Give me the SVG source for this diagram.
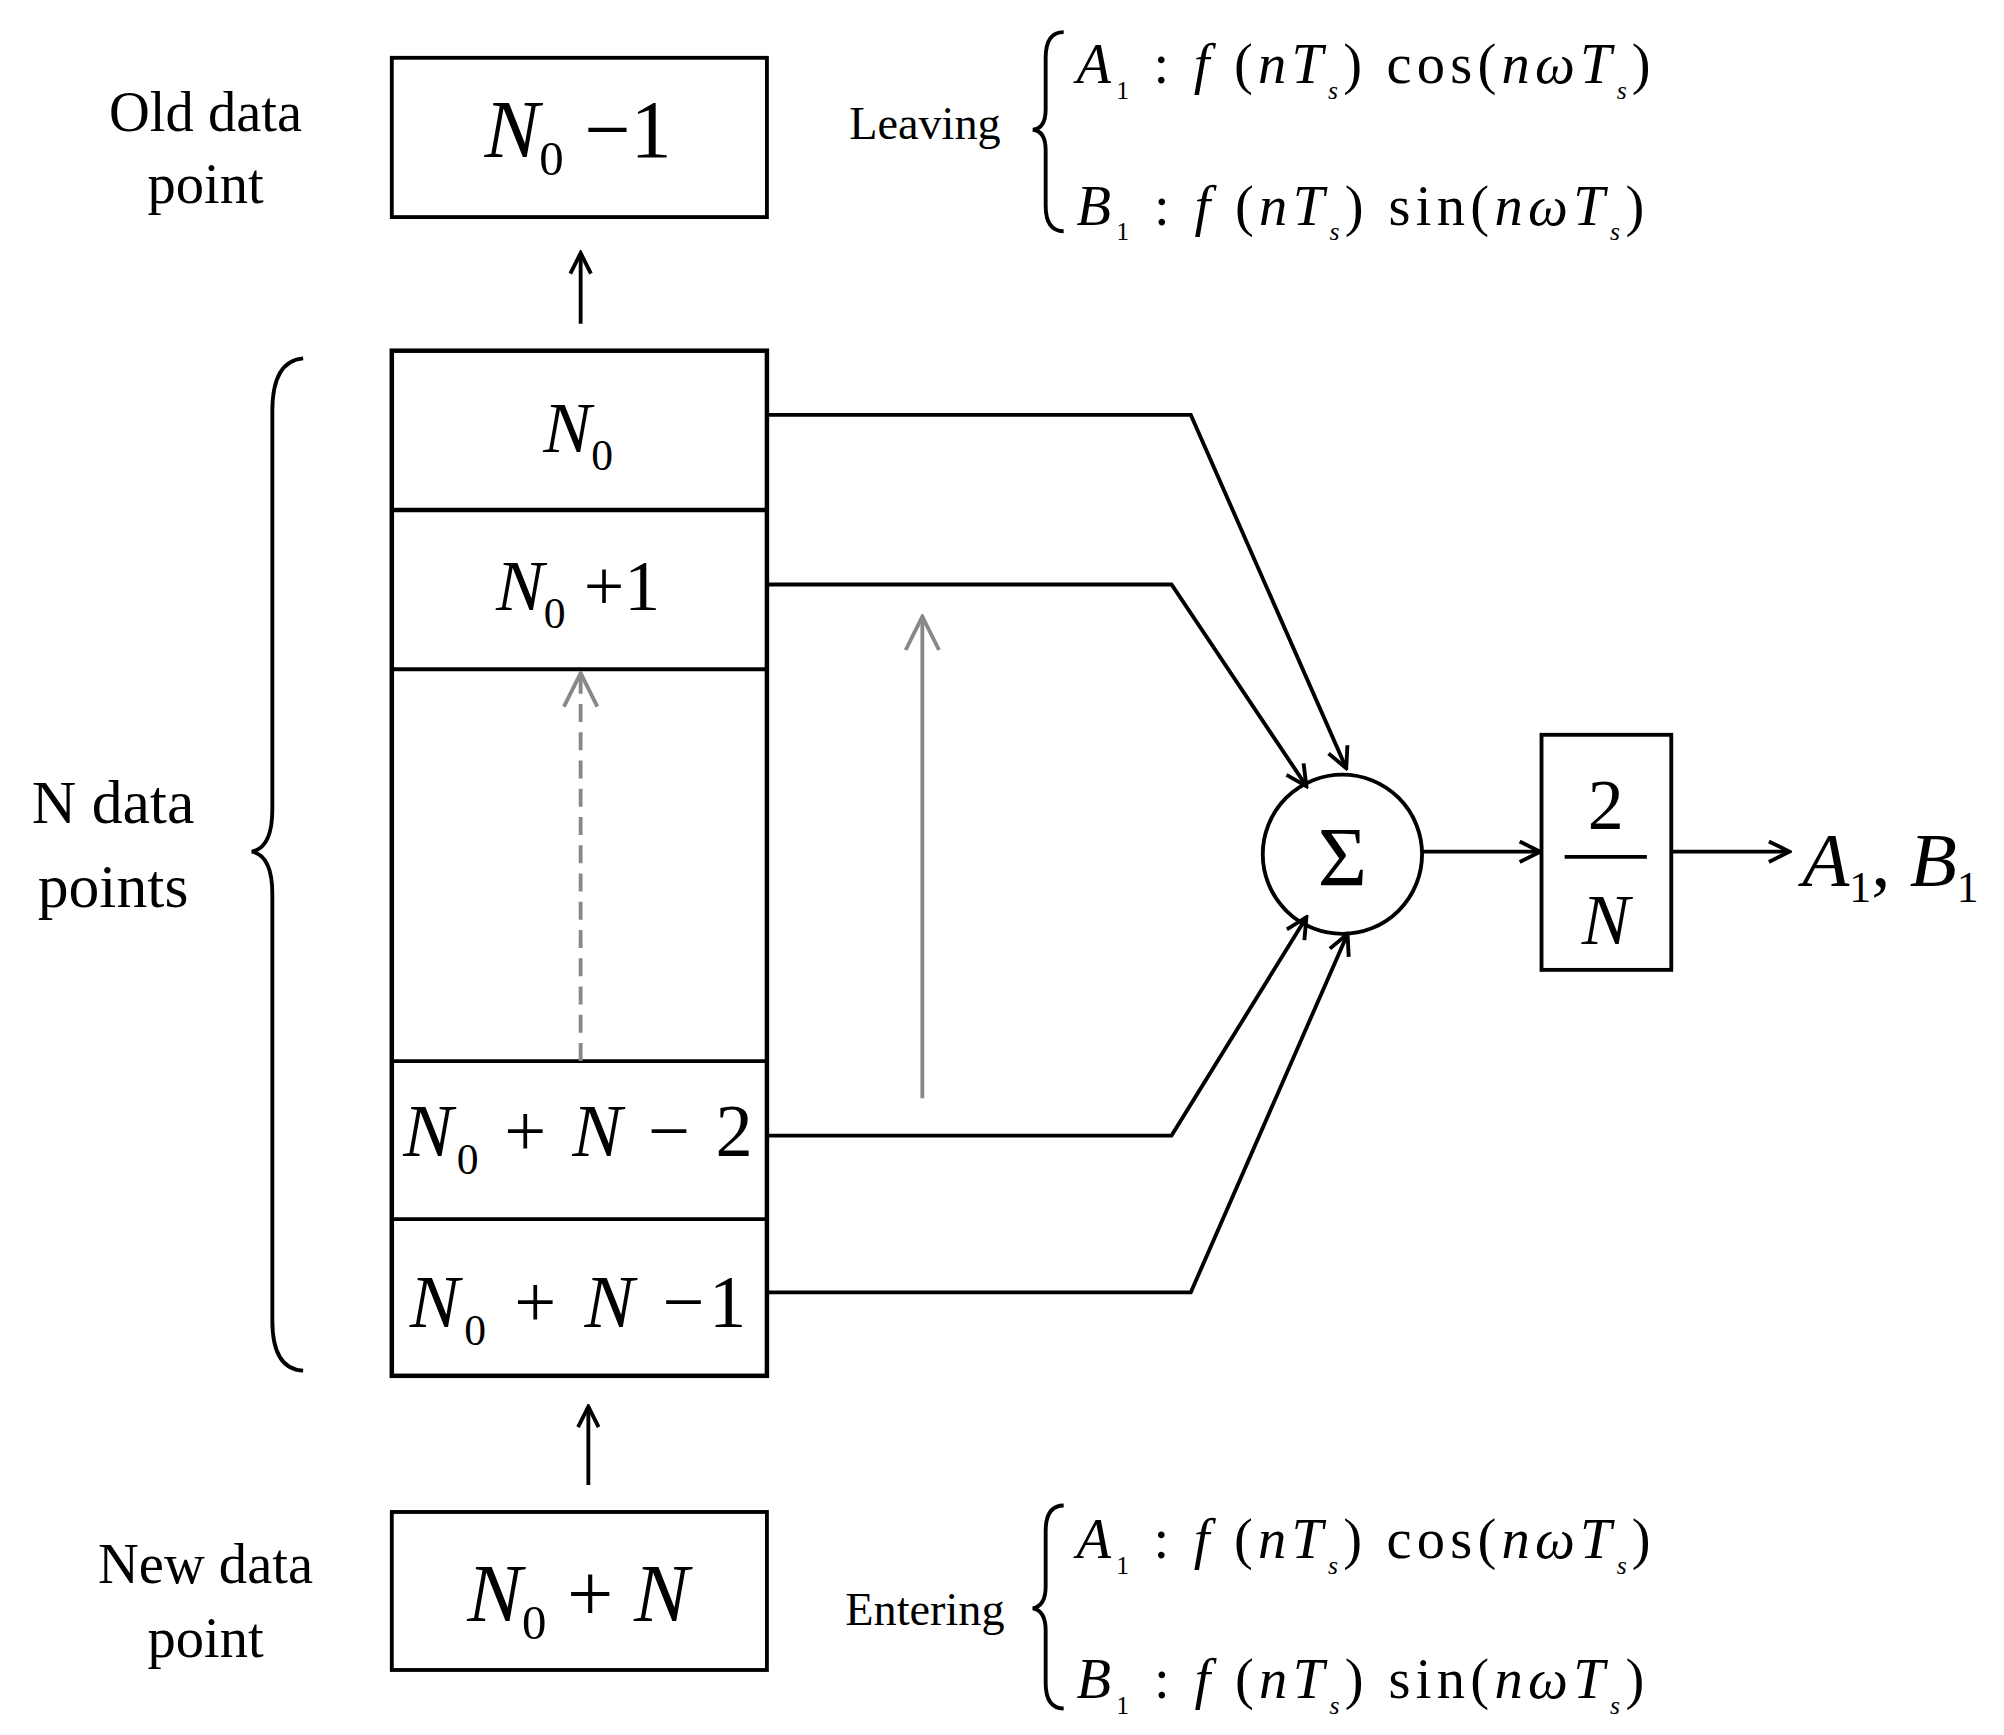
<svg xmlns="http://www.w3.org/2000/svg" width="2004" height="1735" viewBox="0 0 2004 1735">
<style>
.t{font-family:"Liberation Serif",serif;fill:#000}
.i{font-style:italic}
.b{fill:none;stroke:#000;stroke-width:3}
.c{fill:none;stroke:#000;stroke-width:3.5}
</style>
<defs>
<marker id="a" viewBox="0 0 20 20" refX="18" refY="10" markerWidth="20" markerHeight="20" markerUnits="userSpaceOnUse" orient="auto"><polyline points="2,2 18,10 2,18" fill="none" stroke="#000" stroke-width="3"/></marker>
<marker id="g" viewBox="0 0 30 30" refX="28" refY="15" markerWidth="30" markerHeight="30" markerUnits="userSpaceOnUse" orient="auto"><polyline points="2,2 28,15 2,28" fill="none" stroke="#888" stroke-width="3"/></marker>
</defs>
<rect width="2004" height="1735" fill="#fff"/>
<g transform="scale(1.2846)">
<g id="old">
<rect x="305" y="45" width="292" height="124" class="b"/>
<text x="450" y="122" text-anchor="middle" class="t" font-size="64"><tspan class="i">N</tspan><tspan font-size="38" dy="14">0</tspan><tspan dy="-14"> −1</tspan></text>
<text x="160" y="102" text-anchor="middle" class="t" font-size="44">Old data</text>
<text x="160" y="158" text-anchor="middle" class="t" font-size="44">point</text>
</g>
<g id="leaving">
<text x="720" y="108" text-anchor="middle" class="t" font-size="36">Leaving</text>
<path d="M828,25 Q814,25 814,45 L814,85 Q814,100 804,101 Q814,102 814,117 L814,160 Q814,180 828,180" class="b" stroke-width="2"/>
<text x="838" y="65" class="t" font-size="44" textLength="447" lengthAdjust="spacing"><tspan class="i">A</tspan><tspan font-size="20" dy="12">1</tspan><tspan dy="-12"> : </tspan><tspan class="i">f</tspan> (<tspan class="i">nT</tspan><tspan font-size="20" class="i" dy="12">s</tspan><tspan dy="-12">) cos(</tspan><tspan class="i">nωT</tspan><tspan font-size="20" class="i" dy="12">s</tspan><tspan dy="-12">)</tspan></text>
<text x="838" y="175" class="t" font-size="44" textLength="442" lengthAdjust="spacing"><tspan class="i">B</tspan><tspan font-size="20" dy="12">1</tspan><tspan dy="-12"> : </tspan><tspan class="i">f</tspan> (<tspan class="i">nT</tspan><tspan font-size="20" class="i" dy="12">s</tspan><tspan dy="-12">) sin(</tspan><tspan class="i">nωT</tspan><tspan font-size="20" class="i" dy="12">s</tspan><tspan dy="-12">)</tspan></text>
</g>
<g id="buffer">
<rect x="305" y="273" width="292" height="798" class="c"/>
<line x1="305" y1="397" x2="597" y2="397" class="c"/>
<line x1="305" y1="521" x2="597" y2="521" class="b" stroke-width="2.5"/>
<line x1="305" y1="826" x2="597" y2="826" class="b" stroke-width="2"/>
<line x1="305" y1="949" x2="597" y2="949" class="b" stroke-width="3"/>
<text x="450" y="352" text-anchor="middle" class="t" font-size="56"><tspan class="i">N</tspan><tspan font-size="34" dy="14">0</tspan></text>
<text x="450" y="475" text-anchor="middle" class="t" font-size="56"><tspan class="i">N</tspan><tspan font-size="34" dy="14">0</tspan><tspan dy="-14"> +1</tspan></text>
<text x="450" y="900" text-anchor="middle" class="t" font-size="58" textLength="272" lengthAdjust="spacing"><tspan class="i">N</tspan><tspan font-size="34" dy="14">0</tspan><tspan dy="-14"> + </tspan><tspan class="i">N</tspan> − 2</text>
<text x="450" y="1033" text-anchor="middle" class="t" font-size="58" textLength="262" lengthAdjust="spacing"><tspan class="i">N</tspan><tspan font-size="34" dy="14">0</tspan><tspan dy="-14"> + </tspan><tspan class="i">N</tspan> −1</text>
</g>
<g id="brace">
<path d="M236,279 Q212,281 212,320 L212,630 Q212,660 196,663 Q212,666 212,696 L212,1028 Q212,1066 236,1067" class="b"/>
<text x="88" y="641" text-anchor="middle" class="t" font-size="48">N data</text>
<text x="88" y="706" text-anchor="middle" class="t" font-size="48">points</text>
</g>
<g id="new">
<rect x="305" y="1177" width="292" height="123" class="b"/>
<text x="450" y="1262" text-anchor="middle" class="t" font-size="64"><tspan class="i">N</tspan><tspan font-size="38" dy="14">0</tspan><tspan dy="-14"> + </tspan><tspan class="i">N</tspan></text>
<text x="160" y="1232" text-anchor="middle" class="t" font-size="44">New data</text>
<text x="160" y="1290" text-anchor="middle" class="t" font-size="44">point</text>
</g>
<g id="entering">
<text x="720" y="1265" text-anchor="middle" class="t" font-size="36">Entering</text>
<path d="M828,1172 Q814,1172 814,1192 L814,1235 Q814,1250 804,1252 Q814,1254 814,1269 L814,1310 Q814,1330 828,1330" class="b" stroke-width="2"/>
<text x="838" y="1213" class="t" font-size="44" textLength="447" lengthAdjust="spacing"><tspan class="i">A</tspan><tspan font-size="20" dy="12">1</tspan><tspan dy="-12"> : </tspan><tspan class="i">f</tspan> (<tspan class="i">nT</tspan><tspan font-size="20" class="i" dy="12">s</tspan><tspan dy="-12">) cos(</tspan><tspan class="i">nωT</tspan><tspan font-size="20" class="i" dy="12">s</tspan><tspan dy="-12">)</tspan></text>
<text x="838" y="1322" class="t" font-size="44" textLength="442" lengthAdjust="spacing"><tspan class="i">B</tspan><tspan font-size="20" dy="12">1</tspan><tspan dy="-12"> : </tspan><tspan class="i">f</tspan> (<tspan class="i">nT</tspan><tspan font-size="20" class="i" dy="12">s</tspan><tspan dy="-12">) sin(</tspan><tspan class="i">nωT</tspan><tspan font-size="20" class="i" dy="12">s</tspan><tspan dy="-12">)</tspan></text>
</g>
<g id="sum">
<circle cx="1045" cy="665" r="62" class="b"/>
<text x="1045" y="690" text-anchor="middle" class="t" font-size="66">Σ</text>
</g>
<g id="gain">
<rect x="1200" y="572" width="101" height="183" class="b"/>
<text x="1250" y="645" text-anchor="middle" class="t" font-size="56">2</text>
<line x1="1218" y1="667" x2="1282" y2="667" stroke="#000" stroke-width="3"/>
<text x="1250" y="735" text-anchor="middle" class="t i" font-size="56">N</text>
</g>
<g id="out">
<text x="1403" y="690" class="t" font-size="60"><tspan class="i">A</tspan><tspan font-size="34" dy="12">1</tspan><tspan dy="-12">, </tspan><tspan class="i">B</tspan><tspan font-size="34" dy="12">1</tspan></text>
</g>
<g id="connectors">
<line x1="452" y1="252" x2="452" y2="197" class="b" marker-end="url(#a)"/>
<line x1="458" y1="1156" x2="458" y2="1095" class="b" marker-end="url(#a)"/>
<line x1="452" y1="826" x2="452" y2="524" stroke="#888" stroke-width="3" stroke-dasharray="14,8" marker-end="url(#g)"/>
<line x1="718" y1="855" x2="718" y2="480" stroke="#888" stroke-width="3" marker-end="url(#g)"/>
<polyline points="597,323 927,323 1048,598" class="b" marker-end="url(#a)"/>
<polyline points="597,455 912,455 1017,612" class="b" marker-end="url(#a)"/>
<polyline points="597,884 912,884 1017,714" class="b" marker-end="url(#a)"/>
<polyline points="597,1006 927,1006 1049,727" class="b" marker-end="url(#a)"/>
<line x1="1107" y1="663" x2="1199" y2="663" class="b" marker-end="url(#a)"/>
<line x1="1301" y1="663" x2="1393" y2="663" class="b" marker-end="url(#a)"/>
</g>
</g>
</svg>
